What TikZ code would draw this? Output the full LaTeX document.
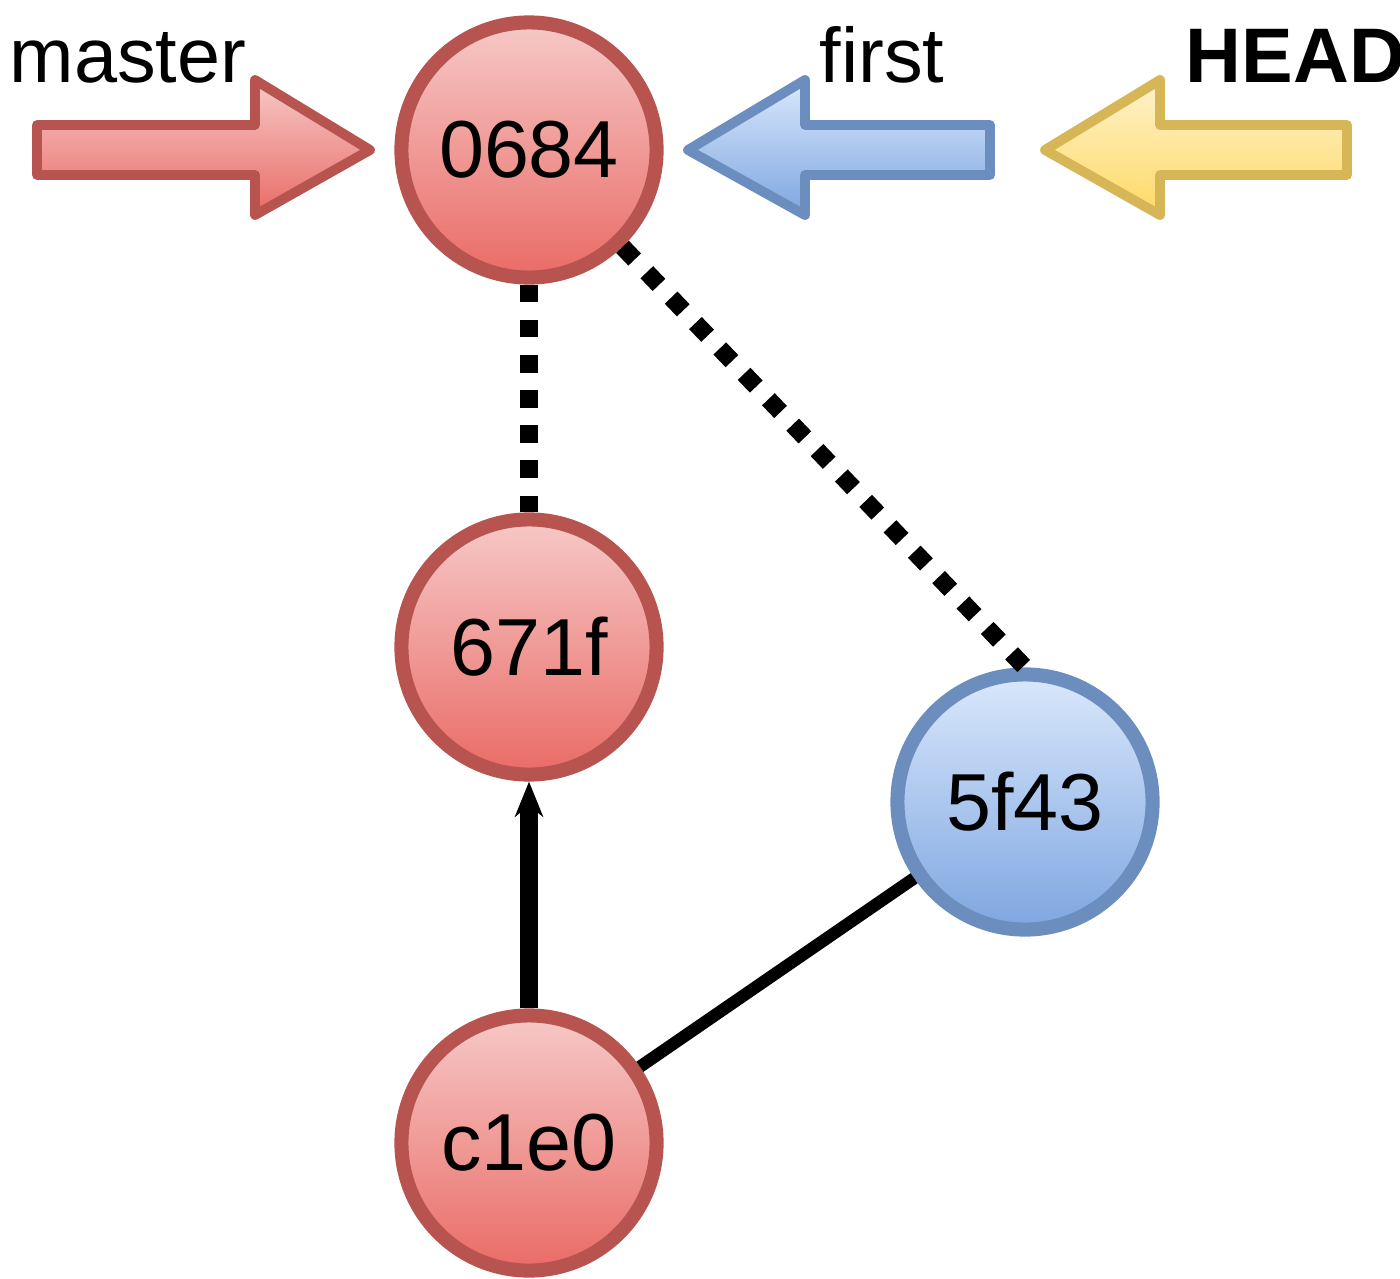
\documentclass[tikz,border=0pt]{standalone}
\usepackage{fontspec}
\setmainfont{Liberation Sans}
\usetikzlibrary{arrows.meta}
\definecolor{rb}{HTML}{B85450}\definecolor{rt}{HTML}{F6C9C7}\definecolor{rbot}{HTML}{EA6B66}
\definecolor{bb}{HTML}{6C8EBF}\definecolor{bt}{HTML}{DAE8FC}\definecolor{bbot}{HTML}{7EA6E0}
\definecolor{yb}{HTML}{D6B656}\definecolor{yt}{HTML}{FFF2CC}\definecolor{ybot}{HTML}{FFD966}
\begin{document}
\begin{tikzpicture}[x=0.01cm,y=-0.01cm,
 commit/.style={circle,minimum size=254\pgflinewidth,line width=4pt,inner sep=0pt,minimum size=2.55cm,font=\fontsize{23}{27}\selectfont},
 red/.style={commit,draw=rb,top color=rt,bottom color=rbot},
 blue/.style={commit,draw=bb,top color=bt,bottom color=bbot},
 barrow/.style={line width=2.8pt,line join=round},
 lbl/.style={font=\fontsize{22}{26}\selectfont,inner sep=0pt},
 dots/.style={line width=5pt,dash pattern=on 5pt off 5pt},
]
\useasboundingbox (0,0) rectangle (1400,1279);
\node[red] (a) at (529,150) {0684};
\node[red] (b) at (529,647) {671f};
\node[red] (c) at (529,1143) {c1e0};
\node[blue] (d) at (1025,802) {5f43};
\draw[dots] (a.south) -- (b.north);
\draw[dots] (a.-46) -- (d.north);
\draw[line width=5pt,-{Stealth[length=10pt,width=8pt]}] (c.north) -- (b.south);
\draw[line width=3.5pt] (c) -- (d);
\draw[barrow,draw=rb,top color=rt,bottom color=rbot] (37,125) -- (255,125) -- (255,80) -- (370,150) -- (255,215) -- (255,175) -- (37,175) -- cycle;
\draw[barrow,draw=bb,top color=bt,bottom color=bbot] (990,125) -- (805,125) -- (805,80) -- (688,150) -- (805,215) -- (805,175) -- (990,175) -- cycle;
\draw[barrow,draw=yb,top color=yt,bottom color=ybot] (1347,125) -- (1160,125) -- (1160,80) -- (1045,150) -- (1160,215) -- (1160,175) -- (1347,175) -- cycle;
\node[lbl,anchor=base] (m) at (128,83) {master};
\node[lbl,anchor=base] (f) at (882,83) {first};
\node[lbl,anchor=base west,font=\fontsize{22}{26}\selectfont\bfseries] (h) at (1185,83) {HEAD};
\end{tikzpicture}
\end{document}
